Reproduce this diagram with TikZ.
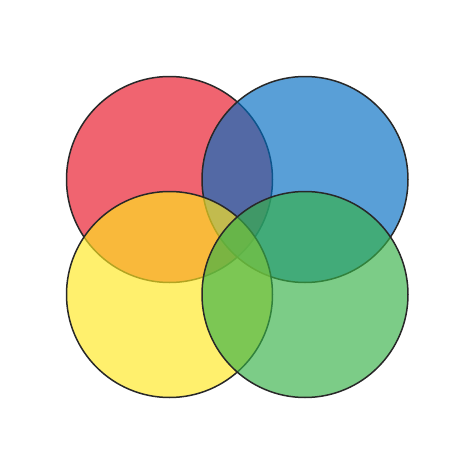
\documentclass[tikz,border=0pt]{standalone}
\definecolor{cred}{RGB}{240,100,112}
\definecolor{cblue}{RGB}{0,109,194}
\definecolor{cyellow}{RGB}{255,232,32}
\definecolor{cgreen}{RGB}{55,178,71}
\definecolor{cline}{RGB}{40,40,40}
\tikzset{
  venn/.style={draw=cline, line width=1.5pt, fill opacity=0.65, draw opacity=1},
}
\begin{document}
\begin{tikzpicture}[x=1pt,y=-1pt]
\useasboundingbox (0,0) rectangle (474,474);
\fill[white] (0,0) rectangle (474,474);
\path[venn, fill=cred, fill opacity=1] (169.5,179.5) circle[radius=103];
\path[venn, fill=cblue] (305,179.5) circle[radius=103];
\path[venn, fill=cyellow] (169.5,294.5) circle[radius=103];
\path[venn, fill=cgreen] (305,294.5) circle[radius=103];
\end{tikzpicture}
\end{document}
